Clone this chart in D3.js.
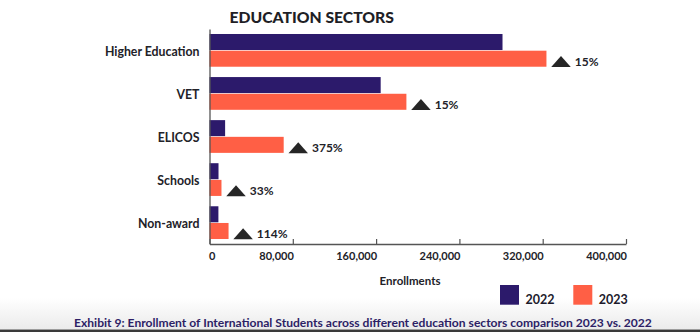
<!DOCTYPE html>
<html>
<head>
<meta charset="utf-8">
<script src="https://cdn.jsdelivr.net/npm/d3@7"></script>
<style>
  html, body { margin: 0; padding: 0; background: #fff; }
  svg { display: block; font-family: Lato, "Open Sans", sans-serif; }
</style>
</head>
<body>
<svg id="chart" width="700" height="332"></svg>
<script>
// Enrollments of international students by education sector
const categories = ["Higher Education", "VET", "ELICOS", "Schools", "Non-award"];
const seriesNames = ["2022", "2023"];
const values2022 = [281400, 164400, 15000, 8650, 8550];
const values2023 = [323600, 189100, 71250, 11500, 18300];
const changeLabels = ["15%", "15%", "375%", "33%", "114%"];
const xTicks = [0, 80000, 160000, 240000, 320000, 400000];

const title = "EDUCATION SECTORS";
const xTitle = "Enrollments";
const caption = "Exhibit 9: Enrollment of International Students across different education sectors comparison 2023 vs. 2022";

const colors = { "2022": "#2c1a6b", "2023": "#ff5f45" };
const ink = "#222228";

const svg = d3.select("#chart");

// soft grey band behind the caption and the rule under it
const defs = svg.append("defs");
const grad = defs.append("linearGradient").attr("id", "capBg")
  .attr("x1", 0).attr("y1", 0).attr("x2", 0).attr("y2", 1);
grad.append("stop").attr("offset", "0%").attr("stop-color", "#ffffff");
grad.append("stop").attr("offset", "100%").attr("stop-color", "#ebebeb");
svg.append("rect").attr("x", 0).attr("y", 298).attr("width", 700).attr("height", 31)
  .attr("fill", "url(#capBg)");
svg.append("rect").attr("x", 0).attr("y", 329.5).attr("width", 700).attr("height", 2.5)
  .attr("fill", "#3a3a3a");

const x = d3.scaleLinear().domain([0, 400000]).range([209.5, 626]);
const y = d3.scaleBand().domain(categories).range([29, 244])
  .paddingInner(0.24).paddingOuter(0.116);
const ySub = d3.scaleBand().domain(seriesNames).range([0, y.bandwidth()]).paddingInner(0.04);

const rows = categories.map((c, i) => ({
  cat: c,
  "2022": values2022[i],
  "2023": values2023[i],
  change: changeLabels[i]
}));

// bars
const groups = svg.append("g").selectAll("g").data(rows).join("g")
  .attr("transform", d => `translate(0,${y(d.cat)})`);
groups.selectAll("rect").data(d => seriesNames.map(s => ({ s, v: d[s] }))).join("rect")
  .attr("x", x(0))
  .attr("y", d => ySub(d.s))
  .attr("width", d => x(d.v) - x(0))
  .attr("height", ySub.bandwidth())
  .attr("fill", d => colors[d.s]);

// change markers: up-triangle plus percentage after the 2023 bar
const triW = 19.5, triH = 11;
groups.each(function (d) {
  const g = d3.select(this);
  const x0 = x(d["2023"]) + 4.8;
  const yb = ySub("2023") + ySub.bandwidth() + 0.3;
  g.append("path")
    .attr("d", `M${x0},${yb}L${x0 + triW / 2},${yb - triH}L${x0 + triW},${yb}Z`)
    .attr("fill", "#262626");
  g.append("text")
    .attr("x", x0 + triW + 4)
    .attr("y", yb - 1.2)
    .attr("font-size", 12)
    .attr("font-weight", 700)
    .attr("fill", ink)
    .text(d.change);
});

// y axis
const yAxis = svg.append("g").attr("transform", `translate(${x(0)},0)`)
  .call(d3.axisLeft(y).tickSize(0).tickPadding(10));
yAxis.select(".domain").attr("stroke", "#555").attr("stroke-width", 1.3);
yAxis.selectAll("text")
  .attr("font-size", 12.3).attr("font-weight", 700).attr("fill", ink)
  .attr("font-family", "Lato, sans-serif").attr("dy", "0.45em");

// x axis: ticks point up into the plot, labels end at their tick
const xAxis = svg.append("g").attr("transform", "translate(0,244)")
  .call(d3.axisBottom(x).tickValues(xTicks).tickFormat(d3.format(","))
    .tickSizeInner(-5).tickSizeOuter(0).tickPadding(8.5));
xAxis.select(".domain").attr("stroke", "#555").attr("stroke-width", 1.3);
xAxis.selectAll(".tick line").attr("stroke", "#555").attr("stroke-width", 1.2);
xAxis.selectAll("text")
  .attr("font-size", 11).attr("font-weight", 700).attr("fill", ink)
  .attr("font-family", "Lato, sans-serif")
  .attr("text-anchor", (d, i) => i === 0 ? "start" : "end")
  .attr("dx", (d, i) => i === 0 ? -1 : 0.5);

// x axis title
svg.append("text").attr("x", 410).attr("y", 285)
  .attr("text-anchor", "middle")
  .attr("font-size", 11.5).attr("font-weight", 700).attr("fill", ink)
  .text(xTitle);

// chart title, sized to its slot
const titleText = svg.append("text").attr("x", 229.5).attr("y", 22.7)
  .attr("font-size", 16).attr("font-weight", 900).attr("fill", "#1f1f26")
  .text(title);
fitWidth(titleText, 164.5);

// legend
const legendX = [500, 573.3];
seriesNames.forEach((s, i) => {
  svg.append("rect").attr("x", legendX[i]).attr("y", 285)
    .attr("width", 19).attr("height", 19.7).attr("fill", colors[s]);
  svg.append("text").attr("x", legendX[i] + 25.5).attr("y", 304)
    .attr("font-size", 12.5).attr("font-weight", 700).attr("fill", "#1d1b2c")
    .text(s);
});

// caption
const capText = svg.append("text").attr("x", 74).attr("y", 327)
  .attr("font-size", 12).attr("font-weight", 700).attr("fill", "#2d1f66")
  .text(caption);
fitWidth(capText, 578);

function fitWidth(sel, w) {
  const fs = +sel.attr("font-size");
  const len = sel.node().getComputedTextLength();
  if (len > 0) sel.attr("font-size", (fs * w / len).toFixed(2));
}
</script>
</body>
</html>
